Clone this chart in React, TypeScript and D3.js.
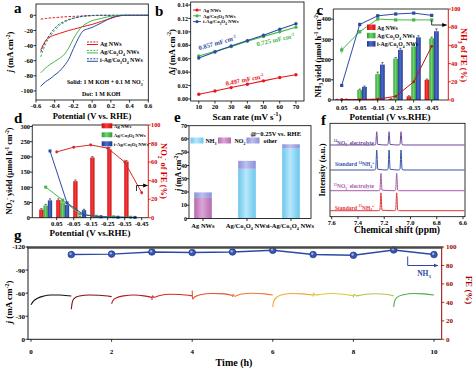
import * as d3 from "d3";

const FONT = "'Liberation Serif', 'Times New Roman', serif";
const RED = "#e8161b";
const GREEN = "#46b549";
const BLUE = "#2c4aa3";
const AXRED = "#d40000";

// ---- a: LSV ----
const lsvPotential = [-0.55, -0.5, -0.45, -0.4, -0.35, -0.3, -0.25, -0.2, -0.15, -0.1, -0.05, 0, 0.05, 0.1, 0.15, 0.2, 0.25, 0.3, 0.35, 0.45, 0.6];
const lsvAgSolid = [-46, -34, -28.5, -26, -24, -22, -20, -18.5, -16.8, -15, -13.5, -12, -10, -8, -6, -4, -2, -0.6, 0, 0, 0];
const lsvAgCoSolid = [-76, -70, -65, -61, -57, -52, -43, -31, -21, -14, -10, -7, -5.5, -4, -2.5, -1.2, -0.4, 0, 0, 0, 0];
const lsvIAgCoSolid = [-94, -88, -84, -79, -74, -67, -58, -44, -31, -21, -18, -16, -13, -10, -6.5, -3.5, -1.5, -0.3, 0, 0, 0];
const lsvAgDot = [-5, -4.2, -3.5, -3, -2.5, -2, -1.7, -1.4, -1.1, -0.8, -0.6, -0.4, -0.2, 0, 0, 0, 0, 0, 0, 0, 0];
const lsvAgCoDot = [-55, -39, -28, -20, -13.5, -9.5, -6.3, -4, -2.6, -1.5, -0.8, -0.3, 0, 0, 0, 0, 0, 0, 0, 0, 0];
const lsvIAgCoDot = [-49, -35, -25, -17, -11.5, -8, -5.5, -3.7, -2.3, -1.2, -0.5, -0.1, 0, 0, 0, 0, 0, 0, 0, 0, 0];

// ---- b: double layer ----
const scanRates = [10, 20, 30, 40, 50, 60, 70];
const cdlAg = [0.007, 0.012, 0.017, 0.022, 0.027, 0.032, 0.036];
const cdlAgCo = [0.064, 0.071, 0.078, 0.086, 0.093, 0.1, 0.107];
const cdlIAgCo = [0.061, 0.07, 0.079, 0.087, 0.095, 0.104, 0.112];

// ---- c/d: potentials ----
const potentials = ["0.05", "-0.05", "-0.15", "-0.25", "-0.35", "-0.45"];
const nh3YieldAg = [3, 1, 2, 5, 18, 100];
const nh3YieldAgCo = [2, 50, 128, 205, 265, 305];
const nh3YieldIAgCo = [3, 65, 175, 248, 310, 340];
const nh3YieldErrAg = [1, 1, 1, 2, 3, 4];
const nh3YieldErrAgCo = [2, 4, 10, 5, 6, 6];
const nh3YieldErrIAgCo = [2, 4, 10, 8, 8, 12];
const nh3FeAg = [0.5, 0.5, 1, 4, 20, 59];
const nh3FeAgCo = [55, 75, 89, 88, 88, 88];
const nh3FeIAgCo = [16, 83, 92.5, 94.5, 95.5, 93];
const nh3FeErrAgCo = [4, 2, 1.5, 1, 1, 1];
const nh3FeErrIAgCo = [1.5, 2, 2, 1.5, 1, 1.5];

const no2YieldAg = [27, 58, 120, 198, 225, 185];
const no2YieldAgCo = [40, 50, 3, 1, 1, 0.5];
const no2YieldIAgCo = [57, 42, 25, 4, 2, 1];
const no2YieldErrAg = [3, 4, 4, 3, 6, 3];
const no2YieldErrAgCo = [4, 5, 1, 0.5, 0.5, 0.5];
const no2YieldErrIAgCo = [5, 6, 3, 1, 1, 0.5];
const no2FeAg = [71, 76, 78.5, 75, 60, 27];
const no2FeAgCo = [33, 19, 4, 1.5, 1, 0.5];
const no2FeIAgCo = [72, 16, 3, 1, 0.5, 0.3];
const no2FeErrAg = [1.5, 1.5, 1.5, 2, 2.5, 2];

// ---- e: partial current ----
const catalysts = ["Ag NWs", "Ag/Co_{3}O_{4} NWs", "i-Ag/Co_{3}O_{4} NWs"];
const partNH3 = [0, 37.5, 52.8];
const partNO2 = [15.5, 0.5, 0];
const partOther = [4.2, 5.5, 3.2];

// ---- f: 1H NMR (ppm, intensity) ----
const nmr14NO3: [number, number][] = [[7.61, 0], [7.275, 0], [7.265, 0.03], [7.257, 0.68], [7.249, 0.03], [7.18, 0], [7.171, 0.03], [7.163, 0.68], [7.155, 0.03], [7.09, 0], [7.08, 0.03], [7.072, 0.68], [7.064, 0.03], [7.05, 0], [6.59, 0]];
const nmr14Std: [number, number][] = [[7.61, 0], [7.275, 0], [7.265, 0.04], [7.257, 1.03], [7.249, 0.04], [7.18, 0], [7.171, 0.04], [7.163, 1.03], [7.155, 0.04], [7.09, 0], [7.08, 0.04], [7.072, 1.03], [7.064, 0.04], [7.05, 0], [6.59, 0]];
const nmr15NO3: [number, number][] = [[7.61, 0], [7.245, 0], [7.233, 0.03], [7.225, 0.89], [7.217, 0.03], [7.125, 0], [7.113, 0.03], [7.105, 0.89], [7.097, 0.03], [7.085, 0], [6.59, 0]];
const nmr15Std: [number, number][] = [[7.61, 0], [7.245, 0], [7.233, 0.03], [7.225, 0.92], [7.217, 0.03], [7.125, 0], [7.113, 0.03], [7.105, 0.92], [7.097, 0.03], [7.085, 0], [6.59, 0]];
const nmrOffsets = [3.685, 2.4, 1.336, 0.308];
const nmrLabels = ["^{14}NO_{3}^{-} electrolyte", "Standard ^{14}NH_{4}^{+}", "^{15}NO_{3}^{-} electrolyte", "Standard ^{15}NH_{4}^{+}"];

// ---- g: stability ----
const chronoSegments: [number, number][][] = [
  [[0, -45], [0.05, -49], [0.15, -53], [0.3, -56], [0.5, -57.6], [0.7, -57.6], [0.85, -57], [1.0, -56.3]],
  [[1.0, -39], [1.02, -47], [1.06, -52.5], [1.2, -56.2], [1.45, -57.5], [1.7, -57.2], [2.0, -55.5]],
  [[2.0, -46], [2.03, -50], [2.1, -53.5], [2.3, -56.5], [2.55, -57.5], [2.8, -56.5], [3.0, -54.5]],
  [[3.0, -51], [3.01, -56.5], [3.05, -54.5], [3.2, -57], [3.45, -58.5], [3.7, -58.3], [4.0, -56.5]],
  [[4.0, -63.5], [4.01, -52], [4.06, -55], [4.2, -58], [4.5, -59.5], [4.8, -59], [5.0, -57]],
  [[5.0, -55], [5.01, -58.5], [5.05, -56], [5.2, -58.5], [5.5, -59.8], [5.8, -59], [6.0, -57.5]],
  [[6.0, -42], [6.02, -49], [6.08, -54], [6.2, -57.5], [6.45, -59.5], [6.75, -59], [7.0, -57.5]],
  [[7.0, -55.5], [7.01, -60], [7.05, -57.5], [7.2, -58.5], [7.45, -59.5], [7.75, -58.5], [8.0, -56.5]],
  [[8.0, -54.5], [8.01, -58.5], [8.08, -56.5], [8.3, -58.5], [8.55, -59.3], [8.8, -58.5], [9.0, -56.5]],
  [[9.0, -42], [9.02, -49], [9.08, -54.5], [9.25, -58], [9.5, -59.5], [9.75, -59], [10.0, -57.5]],
];
const chronoColors = ["#111111", "#7b1414", "#b81c22", "#d42a28", "#e2522a", "#ec7a32", "#f0a830", "#dcc83a", "#b4c846", "#4cae4c"];
const feHours = [1, 2, 3, 4, 5, 6, 7, 8, 9, 10];
const feNH3 = [91.8, 92.3, 94.6, 94, 94.6, 96.4, 91.8, 91, 96.8, 91.8];

// ---------- helpers ----------
function rich(text: string, size: number) {
  const parts = text.split(/(_\{[^}]*\}|\^\{[^}]*\}|\*\{[^}]*\})/).filter(Boolean);
  let cur = 0;
  return parts.map((p, i) => {
    let kind = "n";
    let content = p;
    if (p.startsWith("_{")) kind = "sub";
    else if (p.startsWith("^{")) kind = "sup";
    else if (p.startsWith("*{")) kind = "it";
    if (kind !== "n") content = p.slice(2, -1);
    const target = kind === "sub" ? size * 0.3 : kind === "sup" ? -size * 0.38 : 0;
    const dy = target - cur;
    cur = target;
    return (
      <tspan key={i} dy={dy || undefined} fontSize={kind === "sub" || kind === "sup" ? size * 0.65 : undefined} fontStyle={kind === "it" ? "italic" : undefined}>
        {content}
      </tspan>
    );
  });
}

function Txt({ x, y, text, size = 6.5, anchor = "start", fill = "#000", rotate = 0 }: any) {
  return (
    <text x={x} y={y} fontSize={size} textAnchor={anchor} fill={fill} transform={rotate ? `rotate(${rotate},${x},${y})` : undefined}>
      {rich(text, size)}
    </text>
  );
}

function HAxis({ items, y, labelY, size = 6.5, len = 2.5, color = "#000" }: any) {
  return (
    <g>
      {items.map((it: any, i: number) => (
        <g key={i}>
          <line x1={it.pos} x2={it.pos} y1={y} y2={y + len} stroke={color} strokeWidth={0.8} />
          <text x={it.pos} y={labelY} fontSize={size} textAnchor="middle" fill={color}>{it.label}</text>
        </g>
      ))}
    </g>
  );
}

function VAxis({ items, x, labelX, side = -1, size = 6.5, len = 2.5, color = "#000" }: any) {
  return (
    <g>
      {items.map((it: any, i: number) => (
        <g key={i}>
          <line x1={x} x2={x + side * len} y1={it.pos} y2={it.pos} stroke={color} strokeWidth={0.8} />
          <text x={labelX} y={it.pos + size * 0.35} fontSize={size} textAnchor={side < 0 ? "end" : "start"} fill={color}>{it.label}</text>
        </g>
      ))}
    </g>
  );
}

const fix = (n: number) => (v: number) => v.toFixed(n);

function Defs() {
  const grad = (id: string, edge: string, mid: string) => (
    <linearGradient id={id} x1="0" x2="1" y1="0" y2="0">
      <stop offset="0" stopColor={edge} />
      <stop offset="0.45" stopColor={mid} />
      <stop offset="1" stopColor={edge} />
    </linearGradient>
  );
  return (
    <defs>
      {grad("gRed", "#c30d12", "#ff3b3b")}
      {grad("gGreen", "#2f9a35", "#6fd36f")}
      {grad("gBlue", "#1e3688", "#4d6fd0")}
      {grad("gNH3", "#6cc6ee", "#b8e8fb")}
      {grad("gNO2", "#b56aae", "#dca6d6")}
      {grad("gOther", "#8b91d8", "#bcc0f0")}
      <marker id="arrK" viewBox="0 0 10 10" refX="9" refY="5" markerWidth="6" markerHeight="6" orient="auto">
        <path d="M0,1L10,5L0,9z" fill="#000" />
      </marker>
      <marker id="arrB" viewBox="0 0 10 10" refX="9" refY="5" markerWidth="5" markerHeight="5" orient="auto">
        <path d="M0,1L10,5L0,9z" fill="#2c4aa3" />
      </marker>
    </defs>
  );
}

// ---------- panels ----------
function PanelA() {
  const x = d3.scaleLinear().domain([-0.6, 0.6]).range([36, 148.3]);
  const y = d3.scaleLinear().domain([-112, 15]).range([100, 4]);
  const gen = d3.line<number>().x((_, i) => x(lsvPotential[i])).y((d) => y(d)).curve(d3.curveMonotoneX);
  const curves = [
    { v: lsvAgDot, c: RED, dash: true },
    { v: lsvAgCoDot, c: GREEN, dash: true },
    { v: lsvIAgCoDot, c: BLUE, dash: true },
    { v: lsvAgSolid, c: RED },
    { v: lsvAgCoSolid, c: GREEN },
    { v: lsvIAgCoSolid, c: BLUE },
  ];
  const legend: [string, string][] = [["Ag NWs", RED], ["Ag/Co_{3}O_{4} NWs", GREEN], ["i-Ag/Co_{3}O_{4} NWs", BLUE]];
  return (
    <g>
      {curves.map((c, i) => (
        <path key={i} d={gen(c.v)!} fill="none" stroke={c.c} strokeWidth={1} strokeDasharray={c.dash ? "2.5,1.5" : undefined} />
      ))}
      <rect x={36} y={4} width={112.3} height={96} fill="none" stroke="#000" strokeWidth={0.8} />
      <HAxis items={[-0.6, -0.4, -0.2, 0, 0.2, 0.4, 0.6].map((t) => ({ pos: x(t), label: fix(1)(t) }))} y={100} labelY={107.5} />
      <VAxis items={[0, -20, -40, -60, -80, -100].map((t) => ({ pos: y(t), label: String(t) }))} x={36} labelX={33} />
      {legend.map(([t, c], i) => (
        <g key={i}>
          <line x1={87} x2={98} y1={42 + i * 8.4} y2={42 + i * 8.4} stroke={c} strokeWidth={1} strokeDasharray="2,1.2" />
          <line x1={87} x2={98} y1={44.5 + i * 8.4} y2={44.5 + i * 8.4} stroke={c} strokeWidth={1} />
          <Txt x={100} y={45.5 + i * 8.4} text={t} size={6} />
        </g>
      ))}
      <Txt x={67} y={84} text="Solid: 1 M KOH + 0.1 M NO_{3}^{-}" size={6} />
      <Txt x={82} y={96} text="Dot: 1 M KOH" size={6} />
      <Txt x={13} y={52} text="*{j} (mA cm^{-2})" size={8.5} anchor="middle" rotate={-90} />
      <Txt x={92} y={119} text="Potential (V vs. RHE)" size={8.5} anchor="middle" />
      <Txt x={14} y={13} text="a" size={15} />
    </g>
  );
}

function PanelB() {
  const x = d3.scaleLinear().domain([5, 75]).range([190.7, 304]);
  const y = d3.scaleLinear().domain([-0.003, 0.1445]).range([101, 2]);
  const gen = d3.line<number>().x((_, i) => x(scanRates[i])).y((d) => y(d));
  const series: [number[], string, string][] = [[cdlAg, RED, "Ag NWs"], [cdlAgCo, GREEN, "Ag/Co_{3}O_{4} NWs"], [cdlIAgCo, BLUE, "i-Ag/Co_{3}O_{4} NWs"]];
  return (
    <g>
      {series.map(([v, c], i) => (
        <g key={i}>
          <path d={gen(v)!} fill="none" stroke={c} strokeWidth={1.1} />
          {v.map((d, j) => (
            <circle key={j} cx={x(scanRates[j])} cy={y(d)} r={1.7} fill={c} />
          ))}
        </g>
      ))}
      <rect x={190.7} y={2} width={113.3} height={99} fill="none" stroke="#000" strokeWidth={0.8} />
      <HAxis items={scanRates.map((t) => ({ pos: x(t), label: String(t) }))} y={101} labelY={108.5} />
      <VAxis items={[0, 0.02, 0.04, 0.06, 0.08, 0.1, 0.12, 0.14].map((t) => ({ pos: y(t), label: fix(2)(t) }))} x={190.7} labelX={188} size={6} />
      {series.map(([, c, t], i) => (
        <g key={i}>
          <line x1={193} x2={201} y1={10 + i * 5.8} y2={10 + i * 5.8} stroke={c} strokeWidth={1} />
          <circle cx={197} cy={10 + i * 5.8} r={1.6} fill={c} />
          <Txt x={203} y={11.7 + i * 5.8} text={t} size={5} />
        </g>
      ))}
      <Txt x={218} y={45} text="0.857 mF cm^{-2}" size={6.5} anchor="middle" fill={BLUE} rotate={-16} />
      <Txt x={276} y={42} text="0.725 mF cm^{-2}" size={6.5} anchor="middle" fill={GREEN} rotate={-13} />
      <Txt x={245} y={82} text="0.497 mF cm^{-2}" size={6.5} anchor="middle" fill={RED} rotate={-11} />
      <Txt x={174.5} y={52} text="Δ*{j} (mA cm^{-2})" size={8.5} anchor="middle" rotate={-90} />
      <Txt x={247} y={119.5} text="Scan rate (mV s^{-1})" size={9} anchor="middle" />
      <Txt x={155} y={16} text="b" size={15} />
    </g>
  );
}

function ErrBar({ x, y0, y1 }: any) {
  return (
    <g stroke="#000" strokeWidth={0.5}>
      <line x1={x} x2={x} y1={y0} y2={y1} />
      <line x1={x - 1.2} x2={x + 1.2} y1={y1} y2={y1} />
    </g>
  );
}

function PanelC() {
  const x = d3.scalePoint<string>().domain(potentials).range([341.7, 431.7]);
  const yL = d3.scaleLinear().domain([0, 450]).range([100, 9]);
  const yR = d3.scaleLinear().domain([0, 100]).range([100, 9]);
  const bw = 4.7;
  const bars: [number[], number[], string][] = [[nh3YieldAg, nh3YieldErrAg, "url(#gRed)"], [nh3YieldAgCo, nh3YieldErrAgCo, "url(#gGreen)"], [nh3YieldIAgCo, nh3YieldErrIAgCo, "url(#gBlue)"]];
  const fe: [number[], number[] | null, string, string][] = [[nh3FeAgCo, nh3FeErrAgCo, GREEN, "sq"], [nh3FeIAgCo, nh3FeErrIAgCo, BLUE, "sq"], [nh3FeAg, null, "#c0141a", "ci"]];
  const gen = d3.line<number>().x((_, i) => x(potentials[i])!).y((d) => yR(d));
  return (
    <g>
      {bars.map(([v, e, f], k) =>
        v.map((d, i) => {
          const bx = x(potentials[i])! + (k - 1.5) * bw;
          return (
            <g key={`${k}-${i}`}>
              <rect x={bx} y={yL(d)} width={bw} height={yL(0) - yL(d)} fill={f} />
              <ErrBar x={bx + bw / 2} y0={yL(d)} y1={yL(d + e[i])} />
            </g>
          );
        })
      )}
      {fe.map(([v, e, c, m], k) => (
        <g key={k}>
          <path d={gen(v)!} fill="none" stroke={c} strokeWidth={1} />
          {v.map((d, i) => {
            const px = x(potentials[i])!;
            return (
              <g key={i}>
                {e && <line x1={px} x2={px} y1={yR(d - e[i])} y2={yR(d + e[i])} stroke={c} strokeWidth={0.6} />}
                {m === "sq" ? <rect x={px - 1.6} y={yR(d) - 1.6} width={3.2} height={3.2} fill={c} /> : <circle cx={px} cy={yR(d)} r={1.4} fill={c} />}
              </g>
            );
          })}
        </g>
      ))}
      <line x1={333.3} x2={448.3} y1={9} y2={9} stroke="#000" strokeWidth={0.8} />
      <line x1={333.3} x2={448.3} y1={100} y2={100} stroke="#000" strokeWidth={0.8} />
      <line x1={333.3} x2={333.3} y1={9} y2={100} stroke="#000" strokeWidth={0.8} />
      <line x1={448.3} x2={448.3} y1={9} y2={100} stroke={AXRED} strokeWidth={0.9} />
      <HAxis items={potentials.map((p) => ({ pos: x(p)!, label: p }))} y={100} labelY={109.5} />
      <VAxis items={[0, 100, 200, 300, 400].map((t) => ({ pos: yL(t), label: String(t) }))} x={333.3} labelX={331} size={6.3} />
      <VAxis items={[0, 20, 40, 60, 80, 100].map((t) => ({ pos: yR(t), label: String(t) }))} x={448.3} labelX={451} side={1} size={6.3} color={AXRED} />
      {["Ag NWs", "Ag/Co_{3}O_{4} NWs", "i-Ag/Co_{3}O_{4} NWs"].map((t, i) => (
        <g key={i}>
          <rect x={367} y={24.5 + i * 8.3} width={8.5} height={5.5} fill={["url(#gRed)", "url(#gGreen)", "url(#gBlue)"][i]} />
          <Txt x={377} y={29.5 + i * 8.3} text={t} size={5.8} />
        </g>
      ))}
      <path d="M431.7,20.5 V25 H446.5" fill="none" stroke="#000" strokeWidth={0.8} markerEnd="url(#arrK)" />
      <Txt x={321} y={55} text="NH_{3} yield (μmol h^{-1} cm^{-2})" size={8} anchor="middle" rotate={-90} />
      <Txt x={461} y={55} text="NH_{3} of FE (%)" size={8.5} anchor="middle" fill={AXRED} rotate={90} />
      <Txt x={390} y={120} text="Potential (V vs.RHE)" size={9} anchor="middle" />
      <Txt x={316.5} y={15} text="c" size={15} />
    </g>
  );
}

function PanelD() {
  const xTick = d3.scalePoint<string>().domain(potentials).range([56.7, 141.7]);
  const xBar = d3.scalePoint<string>().domain(potentials).range([45.7, 130.7]);
  const yL = d3.scaleLinear().domain([0, 305]).range([217.7, 125]);
  const yR = d3.scaleLinear().domain([0, 100]).range([217.7, 125]);
  const bw = 4.3;
  const bars: [number[], number[], string][] = [[no2YieldAg, no2YieldErrAg, "url(#gRed)"], [no2YieldAgCo, no2YieldErrAgCo, "url(#gGreen)"], [no2YieldIAgCo, no2YieldErrIAgCo, "url(#gBlue)"]];
  const genRed = d3.line<number>().x((_, i) => xTick(potentials[i])!).y((d) => yR(d));
  const genAt = (k: number) => d3.line<number>().x((_, i) => xBar(potentials[i])! + (k - 1) * bw).y((d) => yR(d));
  return (
    <g>
      {bars.map(([v, e, f], k) =>
        v.map((d, i) => {
          const bx = xBar(potentials[i])! + (k - 1.5) * bw;
          return (
            <g key={`${k}-${i}`}>
              <rect x={bx} y={yL(d)} width={bw} height={yL(0) - yL(d)} fill={f} />
              <ErrBar x={bx + bw / 2} y0={yL(d)} y1={yL(d + e[i])} />
            </g>
          );
        })
      )}
      <path d={genAt(1)(no2FeAgCo)!} fill="none" stroke={GREEN} strokeWidth={1} />
      {no2FeAgCo.map((d, i) => <rect key={i} x={xBar(potentials[i])! - 1.5} y={yR(d) - 1.5} width={3} height={3} fill={GREEN} />)}
      <path d={genAt(2)(no2FeIAgCo)!} fill="none" stroke={BLUE} strokeWidth={1} />
      {no2FeIAgCo.map((d, i) => <rect key={i} x={xBar(potentials[i])! + bw - 1.5} y={yR(d) - 1.5} width={3} height={3} fill={BLUE} />)}
      <path d={genRed(no2FeAg)!} fill="none" stroke="#d42a2a" strokeWidth={1} />
      {no2FeAg.map((d, i) => {
        const px = xTick(potentials[i])!;
        return (
          <g key={i}>
            <line x1={px} x2={px} y1={yR(d - no2FeErrAg[i])} y2={yR(d + no2FeErrAg[i])} stroke="#d42a2a" strokeWidth={0.6} />
            <circle cx={px} cy={yR(d)} r={1.4} fill="#d42a2a" />
          </g>
        );
      })}
      <line x1={32.3} x2={148.3} y1={125} y2={125} stroke="#000" strokeWidth={0.8} />
      <line x1={32.3} x2={148.3} y1={217.7} y2={217.7} stroke="#000" strokeWidth={0.8} />
      <line x1={32.3} x2={32.3} y1={125} y2={217.7} stroke="#000" strokeWidth={0.8} />
      <line x1={148.3} x2={148.3} y1={125} y2={217.7} stroke={AXRED} strokeWidth={0.9} />
      <HAxis items={potentials.map((p) => ({ pos: xTick(p)!, label: p }))} y={217.7} labelY={226} />
      <VAxis items={[0, 50, 100, 150, 200, 250, 300].map((t) => ({ pos: yL(t), label: String(t) }))} x={32.3} labelX={30} size={6.3} />
      <VAxis items={[0, 20, 40, 60, 80, 100].map((t) => ({ pos: yR(t), label: String(t) }))} x={148.3} labelX={151} side={1} size={6.3} color={AXRED} />
      {["Ag NWs", "Ag/Co_{3}O_{4} NWs", "i-Ag/Co_{3}O_{4} NWs"].map((t, i) => (
        <g key={i}>
          <rect x={101.7} y={123.3 + i * 9} width={10.6} height={5} fill={["url(#gRed)", "url(#gGreen)", "url(#gBlue)"][i]} />
          <Txt x={113.8} y={128 + i * 9} text={t} size={4.9} />
        </g>
      ))}
      <path d="M136.5,191 V185.5 H147.5" fill="none" stroke="#000" strokeWidth={0.8} markerEnd="url(#arrK)" />
      <Txt x={12} y={171} text="NO_{2}^{-} yield (μmol h^{-1} cm^{-2})" size={8} anchor="middle" rotate={-90} />
      <Txt x={160.5} y={171} text="NO_{2}^{-} of FE (%)" size={8.5} anchor="middle" fill={AXRED} rotate={90} />
      <Txt x={90} y={235.5} text="Potential (V vs.RHE)" size={9} anchor="middle" />
      <Txt x={14} y={123} text="d" size={15} />
    </g>
  );
}

function PanelE() {
  const x = d3.scaleBand<string>().domain(catalysts).range([181, 313]).paddingInner(0.6).paddingOuter(0.3);
  const y = d3.scaleLinear().domain([0, 70]).range([218.5, 125.7]);
  const table = catalysts.map((c, i) => ({ cat: c, nh3: partNH3[i], no2: partNO2[i], other: partOther[i] }));
  const stack = d3.stack<any>().keys(["nh3", "no2", "other"])(table);
  const fills = ["url(#gNH3)", "url(#gNO2)", "url(#gOther)"];
  const legend: [string, string, number, number][] = [["NH_{3}", fills[0], 190.5, 205.5], ["NO_{2}^{-}", fills[1], 218, 234.5], ["other", fills[2], 246.5, 263.5]];
  return (
    <g>
      {stack.map((s, k) =>
        s.map((d, i) => (
          <rect key={`${k}-${i}`} x={x(catalysts[i])} y={y(d[1])} width={x.bandwidth()} height={Math.max(0, y(d[0]) - y(d[1]))} fill={fills[k]} />
        ))
      )}
      <rect x={189} y={125.7} width={122} height={92.8} fill="none" stroke="#000" strokeWidth={0.8} />
      <VAxis items={[0, 10, 20, 30, 40, 50, 60, 70].map((t) => ({ pos: y(t), label: String(t) }))} x={189} labelX={187} size={6} />
      {catalysts.map((c, i) => (
        <g key={i}>
          <line x1={x(c)! + x.bandwidth() / 2} x2={x(c)! + x.bandwidth() / 2} y1={218.5} y2={221} stroke="#000" strokeWidth={0.8} />
          <Txt x={x(c)! + x.bandwidth() / 2} y={228} text={c} size={6.5} anchor="middle" />
        </g>
      ))}
      <Txt x={301} y={135.5} text="@−0.25V vs. RHE" size={6.5} anchor="end" />
      {legend.map(([t, f, bx, tx], i) => (
        <g key={i}>
          <rect x={bx} y={137.5} width={13} height={6} fill={f} />
          <Txt x={tx} y={143} text={t} size={6} />
        </g>
      ))}
      <Txt x={181} y={172} text="*{j} (mA cm^{-2})" size={8} anchor="middle" rotate={-90} />
      <Txt x={174} y={122} text="e" size={15} />
    </g>
  );
}

function PanelF() {
  const x = d3.scaleLinear().domain([7.6, 6.6]).range([331.7, 463]);
  const y = d3.scaleLinear().domain([0, 4.8]).range([216.7, 123.3]);
  const traces: [[number, number][], string][] = [[nmr14NO3, "#6b4a9e"], [nmr14Std, "#3a55a8"], [nmr15NO3, "#a75aaa"], [nmr15Std, "#e23636"]];
  const labelY = [144.5, 166, 188, 209.5];
  return (
    <g>
      {traces.map(([pts, c], k) => {
        const gen = d3.line<[number, number]>().x((d) => x(d[0])).y((d) => y(nmrOffsets[k] + d[1])).curve(d3.curveMonotoneX);
        return (
          <g key={k}>
            <path d={gen(pts)!} fill="none" stroke={c} strokeWidth={1} />
            <Txt x={374} y={labelY[k]} text={nmrLabels[k]} size={5.5} anchor="end" fill={c} />
          </g>
        );
      })}
      <rect x={330} y={123.3} width={135} height={93.4} fill="none" stroke="#000" strokeWidth={0.8} />
      <HAxis items={[7.6, 7.4, 7.2, 7.0, 6.8, 6.6].map((t) => ({ pos: x(t), label: fix(1)(t) }))} y={216.7} labelY={224.5} />
      <Txt x={325} y={170} text="Intensity (a.u.)" size={8.5} anchor="middle" rotate={-90} />
      <Txt x={397} y={233} text="Chemical shift (ppm)" size={9.5} anchor="middle" />
      <Txt x={321} y={125} text="f" size={15} />
    </g>
  );
}

function PanelG() {
  const x = d3.scaleLinear().domain([0, 10]).range([31, 434]);
  const yL = d3.scaleLinear().domain([0, -120]).range([339.3, 247]);
  const yR = d3.scaleLinear().domain([0, 100]).range([339.3, 247]);
  const gen = d3.line<[number, number]>().x((d) => x(d[0])).y((d) => yL(d[1])).curve(d3.curveMonotoneX);
  const feGen = d3.line<number>().x((_, i) => x(feHours[i])).y((d) => yR(d));
  return (
    <g>
      {chronoSegments.map((s, i) => (
        <path key={i} d={gen(s)!} fill="none" stroke={chronoColors[i]} strokeWidth={1.1} />
      ))}
      <path d={feGen(feNH3)!} fill="none" stroke="#2c4aa3" strokeWidth={1.4} />
      {feNH3.map((d, i) => (
        <g key={i}>
          <circle cx={x(feHours[i])} cy={yR(d)} r={3.3} fill="#3556b3" stroke="#22357f" strokeWidth={0.7} />
          <circle cx={x(feHours[i]) - 0.8} cy={yR(d) - 0.8} r={1.2} fill="#9fb2ea" />
        </g>
      ))}
      <line x1={28} x2={441.7} y1={339.3} y2={339.3} stroke="#000" strokeWidth={0.9} />
      <line x1={28} x2={28} y1={247} y2={339.3} stroke="#000" strokeWidth={0.9} />
      <line x1={441.7} x2={441.7} y1={247} y2={339.3} stroke="#9b0000" strokeWidth={1} />
      <line x1={27} x2={442.5} y1={247.5} y2={247.5} stroke="#4a4a4a" strokeWidth={2.6} />
      <HAxis items={[0, 2, 4, 6, 8, 10].map((t) => ({ pos: x(t), label: String(t) }))} y={339.3} labelY={353.5} size={7} />
      <VAxis items={[0, -30, -60, -90, -120].map((t) => ({ pos: yL(t), label: String(t) }))} x={28} labelX={25} size={7} />
      <VAxis items={[0, 20, 40, 60, 80, 100].map((t) => ({ pos: yR(t), label: String(t) }))} x={441.7} labelX={446} side={1} size={7} color="#9b0000" />
      <path d="M407.7,256.5 V265.5 H438" fill="none" stroke="#2c4aa3" strokeWidth={1} markerEnd="url(#arrB)" />
      <Txt x={424} y={276} text="NH_{3}" size={7.5} anchor="middle" fill="#2c4aa3" />
      <Txt x={12} y={302} text="*{j} (mA cm^{-2})" size={9} anchor="middle" rotate={-90} />
      <Txt x={465.5} y={290} text="FE (%)" size={9} anchor="middle" fill="#9b0000" rotate={90} />
      <Txt x={234} y={365.5} text="Time (h)" size={10} anchor="middle" />
      <Txt x={14} y={240} text="g" size={15} />
    </g>
  );
}

export default function App() {
  return (
    <svg width={474} height={369} style={{ position: "absolute", left: 0, top: 0, background: "#fff" }} fontFamily={FONT} fontWeight="bold">
      <Defs />
      <PanelA />
      <PanelB />
      <PanelC />
      <PanelD />
      <PanelE />
      <PanelF />
      <PanelG />
    </svg>
  );
}
